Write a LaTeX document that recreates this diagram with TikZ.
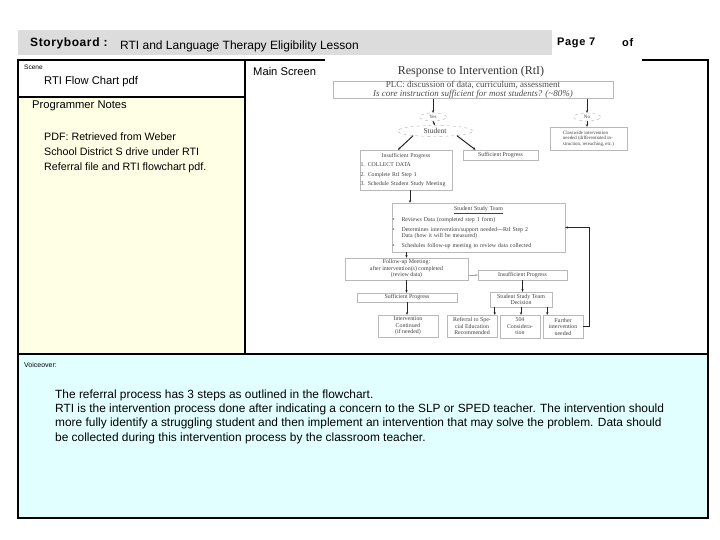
\documentclass[tikz,border=0pt]{standalone}
\usepackage{fontspec}
\setmainfont{Liberation Sans}
\newfontfamily\scanfont{Liberation Serif}
\usepackage{xcolor}
\usetikzlibrary{positioning,arrows.meta,shapes.geometric}

\definecolor{hdrgray}{HTML}{DCDCDC}
\definecolor{noteyellow}{HTML}{FFFFE6}
\definecolor{vocyan}{HTML}{E2FFFF}

\begin{document}
\begin{tikzpicture}[
  x=1pt, y=-1pt,
  frame/.style={line width=2.6pt},
  lbl/.style={anchor=west, inner sep=0pt, font=\fontsize{11.2}{12}\selectfont},
  small/.style={anchor=west, inner sep=0pt, font=\fontsize{7}{8}\selectfont},
  hdr/.style={anchor=west, inner sep=0pt, font=\bfseries\fontsize{12}{14}\selectfont\addfontfeatures{LetterSpace=5}},
  para/.style={anchor=north west, inner sep=0pt, align=left},
  fbox/.style={draw=gray!55, line width=0.45pt, inner sep=0.5pt, align=center,
               text=gray!50!black, font=\scanfont\fontsize{5.9}{6.5}\selectfont},
  fell/.style={draw=gray!60, dashed, ellipse, inner sep=0pt, text=gray!50!black,
               font=\scanfont\fontsize{5}{6}\selectfont},
  farr/.style={-{Stealth[length=2.6pt,width=2.4pt]}, black!85, line width=1pt},
]
\useasboundingbox (0,0) rectangle (720,540);
\fill[white] (0,0) rectangle (720,540);

% --- Header ---
\fill[hdrgray] (18,30) rectangle (552,55);
\node[hdr] (sbtitle) at (30,43) {Storyboard :};
\node[lbl, font=\fontsize{12}{13}\selectfont] (lesson) at (120,46) {RTI and Language Therapy Eligibility Lesson};
\node[hdr, font=\bfseries\fontsize{11}{13}\selectfont\addfontfeatures{LetterSpace=6}] (page) at (557,43) {Page 7};
\node[hdr, font=\bfseries\fontsize{11}{13}\selectfont\addfontfeatures{LetterSpace=6}] (of) at (622,43) {of};

% --- Panels ---
\fill[noteyellow] (18,97) rectangle (245,354);
\fill[vocyan] (18,354) rectangle (708,518);
\draw[frame] (18,60) rectangle (708,518);
\draw[frame] (245,60) -- (245,354);
\draw[frame] (18,97) -- (245,97);
\draw[frame] (18,354) -- (708,354);

\node[small, font=\fontsize{6.5}{8}\selectfont] (scene) at (24,67) {Scene};
\node[lbl] (scenename) at (44,82) {RTI Flow Chart pdf};
\node[lbl] (main) at (253,71) {Main Screen};
\node[lbl] (pnotes) at (32,106) {Programmer Notes};
\node[para, font=\fontsize{10.7}{15}\selectfont] (notes) at (44,132.5)
  {PDF: Retrieved from Weber\\School District S drive under RTI\\Referral file and RTI flowchart pdf.};
\node[small] (vo) at (24,365) {Voiceover:};
\node[para, font=\fontsize{11.9}{14.3}\selectfont] (votext) at (55,389.5)
  {The referral process has 3 steps as outlined in the flowchart.\\
   RTI is the intervention process done after indicating a concern to the SLP or SPED teacher. The intervention should\\
   more fully identify a struggling student and then implement an intervention that may solve the problem. Data should\\
   be collected during this intervention process by the classroom teacher.};

% --- Flow chart (pdf) ---
\fill[white] (325,57) rectangle (642,352);
\node[inner sep=0pt, text=black!80, font=\scanfont\fontsize{12}{13}\selectfont] (rti) at (471,72) {Response to Intervention (RtI)};
\node[fbox, minimum width=280, minimum height=16, text=black!70, inner sep=0pt,
      font=\scanfont\fontsize{9}{7.3}\selectfont] (plc) at (473,90)
  {PLC: discussion of data, curriculum, assessment\\\textit{Is core instruction sufficient for most students? (\textasciitilde80\%)}};
\node[fell, minimum width=27, minimum height=8] (yes) at (433,117) {Yes};
\node[fell, minimum width=75, minimum height=11, font=\scanfont\fontsize{7.5}{8}\selectfont] (student) at (435,131) {Student};
\node[fell, minimum width=27, minimum height=8] (no) at (587,117) {No};
\node[fbox, minimum width=77, minimum height=23, align=left, font=\scanfont\fontsize{4.9}{5.6}\selectfont] (cls) at (588.5,138.5)
  {Classwide intervention\\needed (differentiated in-\\struction, reteaching, etc.)};
\node[fbox, text width=91, minimum height=40, align=left, font=\scanfont\fontsize{5.8}{9.3}\selectfont] (insuf) at (406,170)
  {{\centering Insufficient Progress\par}1. COLLECT DATA\\2. Complete RtI Step 1\\3. Schedule Student Study Meeting};
\node[fbox, minimum width=75, minimum height=10] (suff) at (500.5,155) {Sufficient Progress};
\node[fbox, text width=172, minimum height=49, align=left, font=\scanfont\fontsize{5.9}{6.4}\selectfont] (sst) at (478.5,227.5)
  {{\centering\underline{Student Study Team}\par}\vspace{3pt}
   \makebox[9pt][l]{\textbullet}Reviews Data (completed step 1 form)\\[3.5pt]
   \makebox[9pt][l]{\textbullet}Determines intervention/support needed---RtI Step 2\\
   \hspace*{9pt}Data (how it will be measured)\\[3.5pt]
   \makebox[9pt][l]{\textbullet}Schedules follow-up meeting to review data collected};
\node[fbox, minimum width=123, minimum height=22] (fup) at (406.5,269)
  {Follow-up Meeting:\\after intervention(s) completed\\(review data)};
\node[fbox, minimum width=89, minimum height=10] (insuftwo) at (522.5,275) {Insufficient Progress};
\node[fbox, minimum width=100, minimum height=9] (sufftwo) at (407,297.5) {Sufficient Progress};
\node[fbox, minimum width=60, minimum height=22] (cont) at (408,326) {Intervention\\Continued\\(if needed)};
\node[fbox, minimum width=62, minimum height=15] (dec) at (521,299.5) {Student Study Team\\Decision};
\node[fbox, minimum width=50, minimum height=22] (ref) at (472,326) {Referral to Spe-\\cial Education\\Recommended};
\node[fbox, minimum width=40, minimum height=23] (cfive) at (520,326.5) {504\\Considera-\\tion};
\node[fbox, minimum width=40, minimum height=23] (fur) at (563,326.5) {Further\\intervention\\needed};

% --- Flow chart arrows ---
\draw[farr] (yes.north |- plc.south) -- (yes.north);
\draw[farr] (yes.south) -- (student.north);
\draw[farr] (no.north |- plc.south) -- (no.north);
\draw[farr] (no.south) -- (no.south |- cls.north);
\draw[farr] (student.192) -- ([xshift=-8pt]insuf.north);
\draw[farr] (student.-12) -- ([xshift=-25pt]suff.north);
\draw[farr] ([xshift=4pt]insuf.south) -- ([xshift=4pt]insuf.south |- sst.north);
\draw[farr] (fup.north |- sst.south) -- (fup.north);
\draw[farr, line width=0.5pt, gray!70] (insuftwo.west -| fup.east) -- (insuftwo.west);
\draw[farr] (fup.south) -- (fup.south |- sufftwo.north);
\draw[farr] (sufftwo.south) -- (sufftwo.south |- cont.north);
\draw[farr] (insuftwo.south) -- (insuftwo.south |- dec.north);
\draw[farr] ([xshift=5pt]dec.south west) -- ([xshift=5pt]dec.south west |- ref.north);
\draw[farr] (dec.south) -- (dec.south |- cfive.north);
\draw[farr] ([xshift=-5pt]dec.south east) -- ([xshift=-5pt]dec.south east |- fur.north);
\draw[farr, line width=1.1pt] (fur.east) -- ++(6,0) |- (sst.east);

\end{tikzpicture}
\end{document}
